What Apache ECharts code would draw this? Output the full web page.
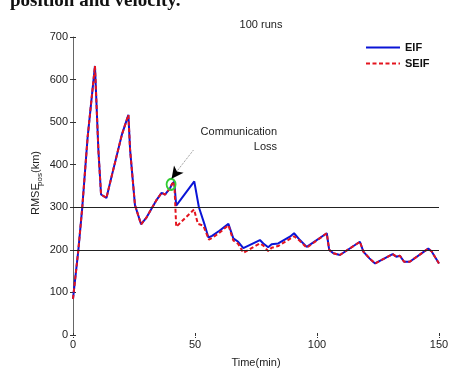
<!DOCTYPE html>
<html><head><meta charset="utf-8">
<script src="https://cdn.jsdelivr.net/npm/echarts@6/dist/echarts.min.js"></script>
<style>html,body{margin:0;padding:0;background:#fff}#c{width:474px;height:391px}</style>
</head><body><div id="c"></div>
<script>
// ---- data ----
var titleText = '100 runs';
var xTicks = [0, 50, 100, 150];
var yTicks = [0, 100, 200, 300, 400, 500, 600, 700];
var refLines = [200, 300];
var commonStart = [[0,85],[2.2,200],[3.8,300],[6,465],[9,632],[10.4,435],[11.5,330],[13.7,322],[15.8,372],[20,470],[22.7,517],[23.4,435],[25.4,305],[27.9,260],[30,275],[34,315],[36.3,334],[37.7,330],[39.8,345],[40.5,354],[41.5,360]];
var eifMid = [[42.3,304],[49.7,361],[51.6,300],[54,258],[55.5,229],[57,233],[60,245],[63.7,261],[65.7,227],[67.7,219],[69.8,204],[76.6,223],[78,215],[80,206],[81.4,213],[84.1,215],[88.9,231],[90.6,239],[93,223],[95.8,207]];
var seifMid = [[42.3,254],[49.6,295],[51.2,261],[53.4,257],[55.7,224],[57,228],[60,240],[63.7,258],[65.7,222],[67.7,214],[69.8,193],[76.6,215],[78,210],[80,197],[81.4,205],[84.1,209],[88.9,226],[90.6,232],[93,221],[95.8,205]];
var commonEnd = [[104,239],[105,200],[106.7,192],[109.4,188],[117.6,219],[119,196],[121.5,180],[123.8,168],[131,190],[132.5,184],[134,186],[135.7,172],[138,172],[145.6,203],[147,196],[150,168]];
var eifData = commonStart.concat(eifMid, commonEnd);
var seifData = commonStart.concat(seifMid, commonEnd);
var lossPoint = [40.2, 354];
var arrowTail = [49.3, 434];
var arrowTip = [40.6, 370];
var arrowHead = [40.4, 367];

var chart = echarts.init(document.getElementById('c'), null, {renderer:'canvas'});
var font = 'Liberation Sans, Arial, sans-serif';
chart.setOption({
  animation: false,
  backgroundColor: '#fff',
  title: { text: titleText, left: 256, top: 14, textAlign: 'center',
    textStyle: { fontFamily: font, fontSize: 11, fontWeight: 'normal', color: '#222' } },
  grid: { left: 73, right: 35, top: 37, bottom: 56 },
  legend: {
    orient: 'vertical', left: 360, top: 37, itemWidth: 34, itemHeight: 12, itemGap: 5,
    itemStyle: { opacity: 0 },
    textStyle: { fontFamily: font, fontSize: 11, fontWeight: 'bold', color: '#111' },
    data: ['EIF', 'SEIF']
  },
  xAxis: [{
    type: 'value', min: 0, max: 150, interval: 50,
    axisLine: { show: false },
    axisTick: { show: true, inside: true, length: 2, lineStyle: { color: '#333' } },
    axisLabel: { fontFamily: font, fontSize: 11, color: '#222', margin: 4,
      customValues: xTicks },
    splitLine: { show: false },
    name: 'Time(min)', nameLocation: 'middle', nameGap: 22,
    nameTextStyle: { fontFamily: font, fontSize: 11, color: '#222' }
  }, {
    type: 'value', position: 'top', min: 0, max: 150, interval: 50,
    axisLine: { show: false },
    axisTick: { show: true, inside: true, length: 3, lineStyle: { color: '#333', type: 'dotted' } },
    axisLabel: { show: false }, splitLine: { show: false }
  }],
  yAxis: [{
    type: 'value', min: 0, max: 700, interval: 100,
    axisLine: { show: false },
    axisTick: { show: true, inside: true, length: 3, lineStyle: { color: '#333' } },
    axisLabel: { fontFamily: font, fontSize: 11, color: '#222', margin: 5 },
    splitLine: { show: false }
  }, {
    type: 'value', position: 'right', min: 0, max: 700, interval: 100,
    axisLine: { show: true, lineStyle: { color: '#666', width: 1 } },
    axisTick: { show: true, inside: true, length: 3, lineStyle: { color: '#333' } },
    axisLabel: { show: false }, splitLine: { show: false }
  }],
  graphic: [
    { type: 'text', left: 10, top: -8, silent: true,
      style: { text: 'position and velocity.', font: 'bold 19px "Liberation Serif", "Times New Roman", serif', fill: '#111' } },
    { type: 'text', x: 277, y: 124, silent: true,
      style: { text: 'Communication\nLoss', align: 'right', font: '11px ' + font, fill: '#222', lineHeight: 15 } },
    { type: 'group', x: 36, y: 185, rotation: Math.PI / 2, silent: true, children: [
      { type: 'text', x: -30, y: 0, style: { text: 'RMSE', font: '11px ' + font, fill: '#222', verticalAlign: 'middle' } },
      { type: 'text', x: -1, y: 4, style: { text: 'pos', font: '8px ' + font, fill: '#222', verticalAlign: 'middle' } },
      { type: 'text', x: 12, y: 0, style: { text: '(km)', font: '11px ' + font, fill: '#222', verticalAlign: 'middle' } }
    ]}
  ],
  series: [{
    name: 'EIF', type: 'line', data: eifData, symbol: 'none',
    lineStyle: { color: '#0a14d6', width: 2 }, itemStyle: { color: '#0a14d6' },
    markLine: {
      silent: true, symbol: 'none', label: { show: false },
      lineStyle: { color: '#222', width: 1, type: 'solid' },
      data: refLines.map(function (v) { return { yAxis: v }; })
    }
  }, {
    name: 'SEIF', type: 'line', data: seifData, symbol: 'none',
    lineStyle: { color: '#e4141e', width: 2, type: [4, 2.5] }, itemStyle: { color: '#e4141e' },
    markPoint: {
      silent: true, label: { show: false },
      data: [
        { coord: lossPoint, symbol: 'circle', symbolSize: [9, 11],
          itemStyle: { color: 'rgba(0,0,0,0)', borderColor: '#33cc33', borderWidth: 2 } },
        { coord: arrowHead, symbol: 'arrow', symbolSize: [9, 12], symbolRotate: 143,
          itemStyle: { color: '#000', borderWidth: 0 } }
      ]
    },
    markLine: {
      silent: true, label: { show: false }, symbol: 'none',
      lineStyle: { color: '#888', width: 1, type: 'dotted' },
      data: [[{ coord: arrowTail }, { coord: arrowTip }]]
    }
  }]
});
</script></body></html>
